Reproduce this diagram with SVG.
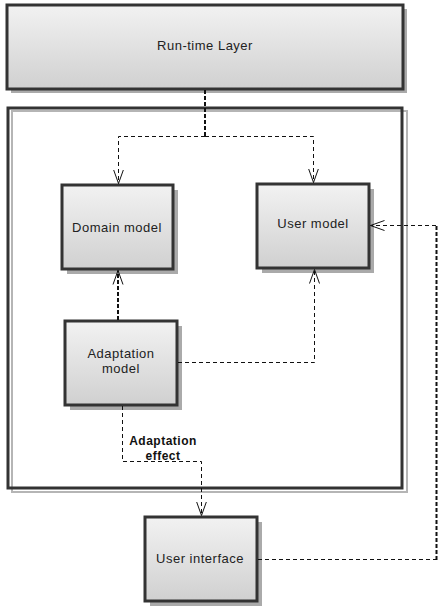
<svg xmlns="http://www.w3.org/2000/svg" width="446" height="611" viewBox="0 0 446 611">
<defs>
<linearGradient id="g" x1="0" y1="0" x2="0" y2="1">
<stop offset="0" stop-color="#f2f2f2"/>
<stop offset="1" stop-color="#d0d0d0"/>
</linearGradient>
<marker id="arr" viewBox="0 0 15 12" refX="14" refY="6" markerWidth="15" markerHeight="12" markerUnits="userSpaceOnUse" orient="auto">
<path d="M0,1 L14,6 L0,11" fill="none" stroke="#111" stroke-width="1"/>
</marker>
</defs>
<style>
.shadow{fill:#aaaaaa}
.box{fill:url(#g);stroke:#333;stroke-width:3}
.lbl{font-family:"Liberation Sans",Arial,sans-serif;font-size:13px;letter-spacing:0.5px;fill:#222;text-anchor:middle}
.bold{font-weight:bold;font-size:12px;fill:#111}
.dash{fill:none;stroke:#111;stroke-width:1;stroke-dasharray:4,3}
.dashb{fill:none;stroke:#111;stroke-width:2;stroke-dasharray:4,2}
</style>
<rect width="446" height="611" fill="#ffffff"/>
<g id="container">
<rect x="12" y="111" width="395" height="381" fill="none" stroke="#b5b5b5" stroke-width="2"/>
<rect x="8" y="108" width="394" height="380" fill="none" stroke="#333" stroke-width="3"/>
</g>
<g id="runtime">
<rect class="shadow" x="11" y="9" width="396" height="84"/>
<rect class="box" x="7" y="5" width="396" height="84"/>
<text class="lbl" x="205" y="50">Run-time Layer</text>
</g>
<g id="domain">
<rect class="shadow" x="67" y="190" width="111" height="84"/>
<rect class="box" x="62" y="185" width="111" height="84"/>
<text class="lbl" x="117" y="231.5">Domain model</text>
</g>
<g id="user">
<rect class="shadow" x="262" y="189" width="112" height="84"/>
<rect class="box" x="257" y="184" width="112" height="84"/>
<text class="lbl" x="313" y="228">User model</text>
</g>
<g id="adaptation">
<rect class="shadow" x="70" y="326" width="112" height="84"/>
<rect class="box" x="65" y="321" width="112" height="84"/>
<text class="lbl" x="121" y="357.5">Adaptation</text>
<text class="lbl" x="121" y="373">model</text>
</g>
<g id="ui">
<rect class="shadow" x="150" y="522" width="112" height="84"/>
<rect class="box" x="145" y="517" width="112" height="84"/>
<text class="lbl" x="200" y="563">User interface</text>
</g>
<g id="connectors">
<path class="dashb" d="M205,90 V136"/>
<path class="dash" d="M205,136.5 H118.5 V183.5" marker-end="url(#arr)"/>
<path class="dash" d="M205,136.5 H313.5 V182.5" marker-end="url(#arr)"/>
<path class="dashb" d="M118,320 V270.5" marker-end="url(#arr)"/>
<path class="dash" d="M178,362.5 H314.5 V269.5" marker-end="url(#arr)"/>
<path class="dash" d="M122.5,406 V461.5 H201.5 V515.5" marker-end="url(#arr)"/>
<path class="dash" d="M258,559.5 H436"/>
<path class="dashb" d="M436.5,560 V225"/>
<path class="dash" d="M436,225.5 H370.5" marker-end="url(#arr)"/>
<text class="lbl bold" x="163" y="445">Adaptation</text>
<text class="lbl bold" x="163" y="460">effect</text>
</g>
</svg>
